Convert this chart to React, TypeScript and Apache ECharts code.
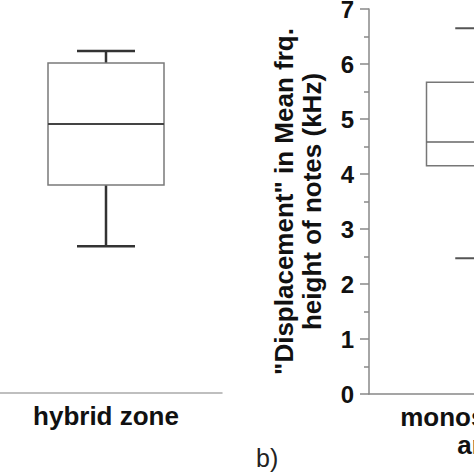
import { useEffect, useRef } from "react";
import * as echarts from "echarts";

// Panel categories (x axis of each panel)
const leftCategories = ["hybrid zone"];
const rightCategories = ["monospecific\narea"];

// Box stats: [category index, low whisker, Q1, median, Q3, high whisker]
const leftBox = [[0, 2.67, 3.78, 4.89, 6.0, 6.22]];
const rightBox = [[0, 2.47, 4.15, 4.58, 5.67, 6.65]];

// Y axis ticks (0..7, step 1)
const yMin = 0;
const yMax = 7;
const yStep = 1;

const FONT = "'Liberation Sans', Arial, sans-serif";

type BoxStyle = { box: string; boxW: number; median: string; medianW: number; whisker: string; whiskerW: number };

function makeRenderer(st: BoxStyle) {
  return (params: any, api: any) => {
    const x = api.value(0);
    const lo = api.coord([x, api.value(1)]);
    const q1 = api.coord([x, api.value(2)]);
    const med = api.coord([x, api.value(3)]);
    const q3 = api.coord([x, api.value(4)]);
    const hi = api.coord([x, api.value(5)]);
    const band = api.size([1, 0])[0];
    const bw = band * 0.5;
    const cw = bw * 0.5;
    const cx = med[0];
    return {
      type: "group",
      children: [
        { type: "line", shape: { x1: cx, y1: q3[1], x2: cx, y2: hi[1] }, style: { stroke: st.whisker, lineWidth: st.whiskerW } },
        { type: "line", shape: { x1: cx, y1: q1[1], x2: cx, y2: lo[1] }, style: { stroke: st.whisker, lineWidth: st.whiskerW } },
        { type: "line", shape: { x1: cx - cw / 2, y1: hi[1], x2: cx + cw / 2, y2: hi[1] }, style: { stroke: st.whisker, lineWidth: st.whiskerW } },
        { type: "line", shape: { x1: cx - cw / 2, y1: lo[1], x2: cx + cw / 2, y2: lo[1] }, style: { stroke: st.whisker, lineWidth: st.whiskerW } },
        { type: "rect", shape: { x: cx - bw / 2, y: q3[1], width: bw, height: q1[1] - q3[1] }, style: { fill: "#fff", stroke: st.box, lineWidth: st.boxW } },
        { type: "line", shape: { x1: cx - bw / 2, y1: med[1], x2: cx + bw / 2, y2: med[1] }, style: { stroke: st.median, lineWidth: st.medianW } },
      ],
    };
  };
}

export default function App() {
  const ref = useRef<HTMLDivElement>(null);

  useEffect(() => {
    if (!ref.current) return;
    const chart = echarts.init(ref.current, null, { renderer: "svg" });

    const catLabel = {
      color: "#111",
      fontFamily: FONT,
      fontWeight: "bold" as const,
      fontSize: 26,
      lineHeight: 28,
      margin: 9,
    };

    chart.setOption({
      animation: false,
      backgroundColor: "#fff",
      grid: [
        { left: -10, top: 8, width: 232, height: 385, outerBoundsMode: "none", containLabel: false },
        { left: 369, top: 9, width: 230, height: 385, outerBoundsMode: "none", containLabel: false },
      ],
      xAxis: [
        {
          type: "category",
          gridIndex: 0,
          data: leftCategories,
          axisLine: { lineStyle: { color: "#aaa", width: 1.5 } },
          axisTick: { show: false },
          axisLabel: catLabel,
        },
        {
          type: "category",
          gridIndex: 1,
          data: rightCategories,
          axisLine: { lineStyle: { color: "#888", width: 1.5 } },
          axisTick: { show: false },
          axisLabel: catLabel,
        },
      ],
      yAxis: [
        { type: "value", gridIndex: 0, min: yMin, max: yMax, interval: yStep, show: false },
        {
          type: "value",
          gridIndex: 1,
          min: yMin,
          max: yMax,
          interval: yStep,
          name: '"Displacement" in Mean frq.\nheight of notes (kHz)',
          nameLocation: "middle",
          nameRotate: 90,
          nameGap: 43,
          nameTextStyle: {
            color: "#111",
            fontFamily: FONT,
            fontWeight: "bold",
            fontSize: 26,
            lineHeight: 28,
            align: "center",
          },
          axisLine: { show: true, lineStyle: { color: "#888", width: 1.5 } },
          axisTick: { show: true, length: 9, lineStyle: { color: "#888", width: 1.5 } },
          minorTick: { show: true, splitNumber: 2, length: 5, lineStyle: { color: "#888", width: 1.5 } },
          splitLine: { show: false },
          axisLabel: {
            color: "#111",
            fontFamily: FONT,
            fontWeight: "bold",
            fontSize: 24,
            margin: 15,
          },
        },
      ],
      series: [
        {
          type: "custom",
          xAxisIndex: 0,
          yAxisIndex: 0,
          data: leftBox,
          renderItem: makeRenderer({ box: "#7a7a7a", boxW: 1.5, median: "#444", medianW: 2, whisker: "#333", whiskerW: 2.5 }),
        },
        {
          type: "custom",
          xAxisIndex: 1,
          yAxisIndex: 1,
          data: rightBox,
          renderItem: makeRenderer({ box: "#777", boxW: 1.5, median: "#666", medianW: 1.5, whisker: "#555", whiskerW: 2 }),
        },
      ],
      graphic: [
        {
          type: "text",
          left: 256,
          top: 445,
          style: { text: "b)", fill: "#222", fontFamily: FONT, fontSize: 25 },
        },
      ],
    });

    return () => chart.dispose();
  }, []);

  return (
    <div
      ref={ref}
      style={{ position: "fixed", left: 0, top: 0, width: 474, height: 474 }}
    />
  );
}
